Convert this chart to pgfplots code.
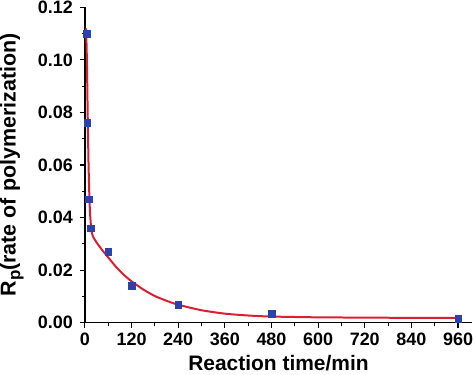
\documentclass[border=0pt]{standalone}
\usepackage{pgfplots}
\pgfplotsset{compat=1.18}
\usepackage{fontspec}
\setmainfont{Liberation Sans}
\definecolor{ptblue}{RGB}{45,65,170}
\definecolor{fitred}{RGB}{220,30,50}
\begin{document}
\begin{tikzpicture}
\begin{axis}[
  scale only axis,
  width=388pt, height=316pt,
  xmin=0, xmax=996, ymin=0, ymax=0.12,
  axis x line*=bottom, axis y line*=left,
  axis line style={line width=1.2pt, -},
  xtick={0,120,...,960},
  minor xtick={60,180,...,900},
  ytick={0,0.02,...,0.121},
  minor ytick={0.01,0.03,...,0.111},
  tick align=outside,
  major tick length=5pt, minor tick length=3pt,
  tick style={line width=1.1pt, black},
  ticklabel style={font=\fontsize{18}{20}\selectfont\bfseries, inner sep=1pt},
  yticklabel style={xshift=-6pt},
  xticklabel style={yshift=-4pt},
  /pgf/number format/assume math mode=true,
  yticklabel style={/pgf/number format/.cd, fixed, fixed zerofill, precision=2},
  scaled y ticks=false,
  xlabel={\fontsize{21}{24}\selectfont\bfseries Reaction time/min},
  ylabel={\fontsize{21.5}{24}\selectfont\bfseries R\raisebox{-0.4ex}{\fontsize{17}{19}\selectfont p}(rate of polymerization)},
  xlabel style={at={(axis description cs:0.5,0)}, anchor=base, inner sep=4pt, yshift=-48pt},
  ylabel style={at={(axis description cs:-0.158,0.5)}, anchor=south, inner sep=0pt},
  clip=false,
]
\addplot[fitred, line width=2pt, smooth, tension=0.4] coordinates {
(3,0.112)(5,0.100)(7,0.080)(9,0.062)(11,0.050)(13,0.042)(16,0.036)(20,0.033)
(30,0.0305)(45,0.0275)(60,0.0248)(80,0.0212)(100,0.0182)(120,0.0157)(150,0.0126)
(180,0.0101)(210,0.0083)(240,0.0068)(300,0.0047)(360,0.0034)(420,0.0027)
(480,0.0023)(600,0.0020)(720,0.0019)(840,0.0018)(960,0.0018)};
\addplot[only marks, mark=square*, mark size=3.3pt, ptblue] coordinates {
(5,0.110)(6,0.076)(10,0.047)(15,0.036)(60,0.027)(120,0.014)(240,0.0068)(480,0.0034)(960,0.0015)};
\end{axis}
\end{tikzpicture}
\end{document}
